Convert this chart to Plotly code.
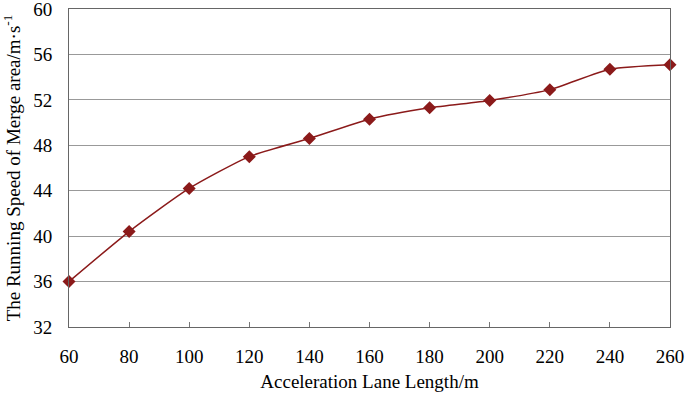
import plotly.graph_objects as go

lane_length = [60, 80, 100, 120, 140, 160, 180, 200, 220, 240, 260]
speed = [36.0, 40.4, 44.2, 47.0, 48.6, 50.3, 51.3, 51.95, 52.9, 54.7, 55.1]
y_ticks = [32, 36, 40, 44, 48, 52, 56, 60]

line_color = "#8B1A1A"
font_family = "Liberation Serif, Times New Roman, serif"

fig = go.Figure()
fig.add_trace(go.Scatter(
    x=lane_length, y=speed, mode="lines+markers",
    line=dict(color=line_color, width=1.5, shape="spline", smoothing=0.6),
    marker=dict(symbol="diamond", size=10, color=line_color),
    showlegend=False, cliponaxis=False,
))

fig.update_layout(
    width=685, height=393,
    margin=dict(l=69, r=15, t=9, b=66),
    paper_bgcolor="white", plot_bgcolor="white",
    font=dict(family=font_family, size=19, color="black"),
)
fig.update_xaxes(
    range=[60, 260], tickvals=lane_length, ticks="inside", ticklen=5,
    tickcolor="#777", showgrid=False, showline=True, linecolor="#666",
    linewidth=1, mirror=True, zeroline=False, ticklabelstandoff=12,
    automargin=False, ticklabeloverflow="allow",
    title=dict(text="Acceleration Lane Length/m", font=dict(size=19), standoff=8),
)
fig.update_yaxes(
    range=[32, 60], tickvals=y_ticks, ticks="", showgrid=True,
    gridcolor="#999", gridwidth=1, showline=True, linecolor="#666",
    linewidth=1, mirror=True, zeroline=False, ticklabelstandoff=12,
    automargin=False, ticklabeloverflow="allow",
    title=dict(text="The Running Speed of Merge area/m·s<sup>-1</sup>",
               font=dict(size=19), standoff=10),
)

fig.write_html(
    "out.html",
    config={"displayModeBar": False},
    post_script="document.body.style.margin='0';document.body.style.overflow='hidden';",
)
